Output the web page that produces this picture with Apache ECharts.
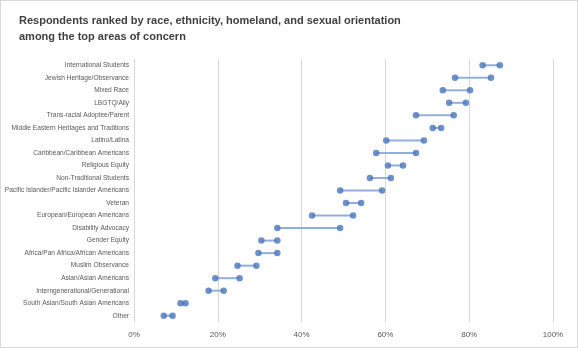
<!DOCTYPE html>
<html>
<head>
<meta charset="utf-8">
<script src="https://cdn.jsdelivr.net/npm/echarts@6/dist/echarts.min.js"></script>
<style>
  html, body { margin: 0; padding: 0; background: #fff; }
  #chart { width: 578px; height: 348px; box-sizing: border-box; border: 1px solid #d9d9d9; }
</style>
</head>
<body>
<div id="chart"></div>
<script>
// Areas of concern, top to bottom
const categories = [
  'International Students',
  'Jewish Heritage/Observance',
  'Mixed Race',
  'LBGTQ/Ally',
  'Trans-racial Adoptee/Parent',
  'Middle Eastern Heritages and Traditions',
  'Latino/Latina',
  'Caribbean/Caribbean Americans',
  'Religious Equity',
  'Non-Traditional Students',
  'Pacific Islander/Pacific Islander Americans',
  'Veteran',
  'European/European Americans',
  'Disability Advocacy',
  'Gender Equity',
  'Africa/Pan Africa/African Americans',
  'Muslim Observance',
  'Asian/Asian Americans',
  'Interngenerational/Generational',
  'South Asian/South Asian Americans',
  'Other'
];

// Lower and upper share (%) for each area
const lowValues = [83.2, 76.6, 73.7, 75.2, 67.3, 71.3, 60.2, 57.8, 60.6, 56.3, 49.2,
                   50.6, 42.5, 34.2, 30.4, 29.7, 24.7, 19.4, 17.8, 11.1, 7.1];
const highValues = [87.3, 85.2, 80.2, 79.2, 76.3, 73.3, 69.2, 67.3, 64.2, 61.3, 59.2,
                    54.2, 52.3, 49.2, 34.2, 34.2, 29.2, 25.2, 21.4, 12.3, 9.2];

const xTicks = [0, 20, 40, 60, 80, 100];

const dotColor = '#4a76bd';
const barColor = '#93aedb';

const chart = echarts.init(document.getElementById('chart'));

const rangeData = categories.map((c, i) => [i, lowValues[i], highValues[i]]);

chart.setOption({
  animation: false,
  title: {
    text: 'Respondents ranked by race, ethnicity, homeland, and sexual orientation\namong the top areas of concern',
    left: 13,
    top: 7,
    textStyle: {
      fontFamily: 'Liberation Sans',
      fontSize: 11,
      fontWeight: 'bold',
      color: '#404040',
      lineHeight: 16
    }
  },
  grid: { left: 133, right: 24, top: 58, bottom: 25 },
  xAxis: {
    type: 'value',
    min: xTicks[0],
    max: xTicks[xTicks.length - 1],
    interval: 20,
    axisLine: { show: false },
    axisTick: { show: false },
    splitLine: { lineStyle: { color: '#d9d9d9', width: 1 } },
    axisLabel: {
      formatter: v => v + '%',
      color: '#595959',
      fontSize: 8,
      fontFamily: 'Liberation Sans',
      margin: 9
    }
  },
  yAxis: {
    type: 'category',
    data: categories,
    inverse: true,
    axisLine: { show: false },
    axisTick: { show: false },
    splitLine: { show: false },
    axisLabel: {
      color: '#595959',
      fontSize: 6.6,
      fontFamily: 'Liberation Sans',
      margin: 5
    }
  },
  series: [
    {
      type: 'custom',
      data: rangeData,
      encode: { x: [1, 2], y: 0 },
      renderItem: (params, api) => {
        const a = api.coord([api.value(1), api.value(0)]);
        const b = api.coord([api.value(2), api.value(0)]);
        return {
          type: 'line',
          shape: { x1: a[0], y1: a[1], x2: b[0], y2: b[1] },
          style: { stroke: barColor, lineWidth: 2 }
        };
      },
      z: 1
    },
    {
      type: 'scatter',
      data: lowValues.map((v, i) => [v, i]),
      symbolSize: 6.5,
      itemStyle: { color: dotColor },
      z: 2
    },
    {
      type: 'scatter',
      data: highValues.map((v, i) => [v, i]),
      symbolSize: 6.5,
      itemStyle: { color: dotColor },
      z: 2
    }
  ]
});
</script>
</body>
</html>
